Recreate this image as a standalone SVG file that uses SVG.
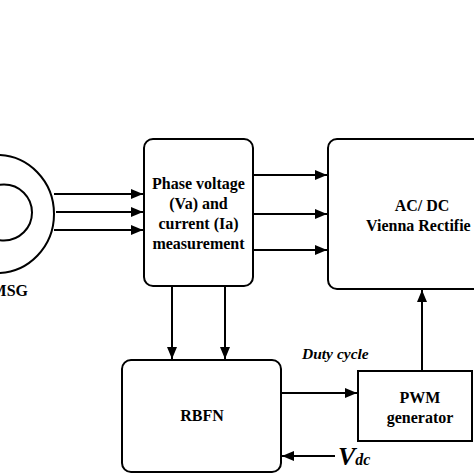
<svg xmlns="http://www.w3.org/2000/svg" width="474" height="474" viewBox="0 0 474 474">
<defs>
<marker id="ah" viewBox="0 0 12 10" refX="12" refY="5" markerWidth="12" markerHeight="10" markerUnits="userSpaceOnUse" orient="auto">
<path d="M0,0 L12,5 L0,10 Z" fill="#000"/>
</marker>
<style>
.box{fill:#fff;stroke:#000;stroke-width:2}
.t{font-family:"Liberation Serif","Times New Roman",serif;font-weight:bold;font-size:16px;text-anchor:middle;fill:#000}
.ln{stroke:#000;stroke-width:2;fill:none}
</style>
</defs>
<rect width="474" height="474" fill="#fff"/>
<g id="pmsg">
<ellipse cx="-3" cy="214" rx="57" ry="59" class="box"/>
<circle cx="4" cy="212.5" r="28" class="box"/>
<text x="28" y="296" class="t" style="text-anchor:end">PMSG</text>
</g>
<g id="measure">
<rect x="144" y="139" width="109" height="147" rx="9" class="box"/>
<text class="t"><tspan x="198.5" y="189">Phase voltage</tspan><tspan x="198.5" y="209">(Va) and</tspan><tspan x="198.5" y="229">current (Ia)</tspan><tspan x="198.5" y="249">measurement</tspan></text>
</g>
<g id="rectifier">
<rect x="328" y="139" width="160" height="150" rx="9" class="box"/>
<text x="422" y="211" class="t">AC/ DC</text>
<text x="366" y="231" class="t" style="text-anchor:start">Vienna Rectifie</text>
</g>
<g id="rbfn">
<rect x="122" y="360" width="159" height="112" rx="9" class="box"/>
<text x="202" y="421" class="t">RBFN</text>
</g>
<g id="pwm">
<rect x="358" y="371" width="114" height="70" class="box"/>
<text class="t"><tspan x="420" y="403">PWM</tspan><tspan x="420" y="423">generator</tspan></text>
</g>
<g id="connectors">
<line x1="54" y1="194" x2="143" y2="194" class="ln" marker-end="url(#ah)"/>
<line x1="56" y1="212" x2="143" y2="212" class="ln" marker-end="url(#ah)"/>
<line x1="54" y1="230" x2="143" y2="230" class="ln" marker-end="url(#ah)"/>
<line x1="253" y1="175" x2="327" y2="175" class="ln" marker-end="url(#ah)"/>
<line x1="253" y1="214" x2="327" y2="214" class="ln" marker-end="url(#ah)"/>
<line x1="253" y1="250" x2="327" y2="250" class="ln" marker-end="url(#ah)"/>
<line x1="172" y1="286" x2="172" y2="359" class="ln" marker-end="url(#ah)"/>
<line x1="225" y1="286" x2="225" y2="359" class="ln" marker-end="url(#ah)"/>
<line x1="281" y1="393" x2="357" y2="393" class="ln" marker-end="url(#ah)"/>
<line x1="422" y1="371" x2="422" y2="290" class="ln" marker-end="url(#ah)"/>
<line x1="335" y1="456" x2="282" y2="456" class="ln" marker-end="url(#ah)"/>
<text x="302" y="359" style="font-family:'Liberation Serif',serif;font-weight:bold;font-style:italic;font-size:15.5px">Duty cycle</text>
<text x="338" y="465" style="font-family:'Liberation Serif',serif;font-weight:bold;font-style:italic;font-size:26px">V<tspan style="font-size:16px">dc</tspan></text>
</g>
</svg>
